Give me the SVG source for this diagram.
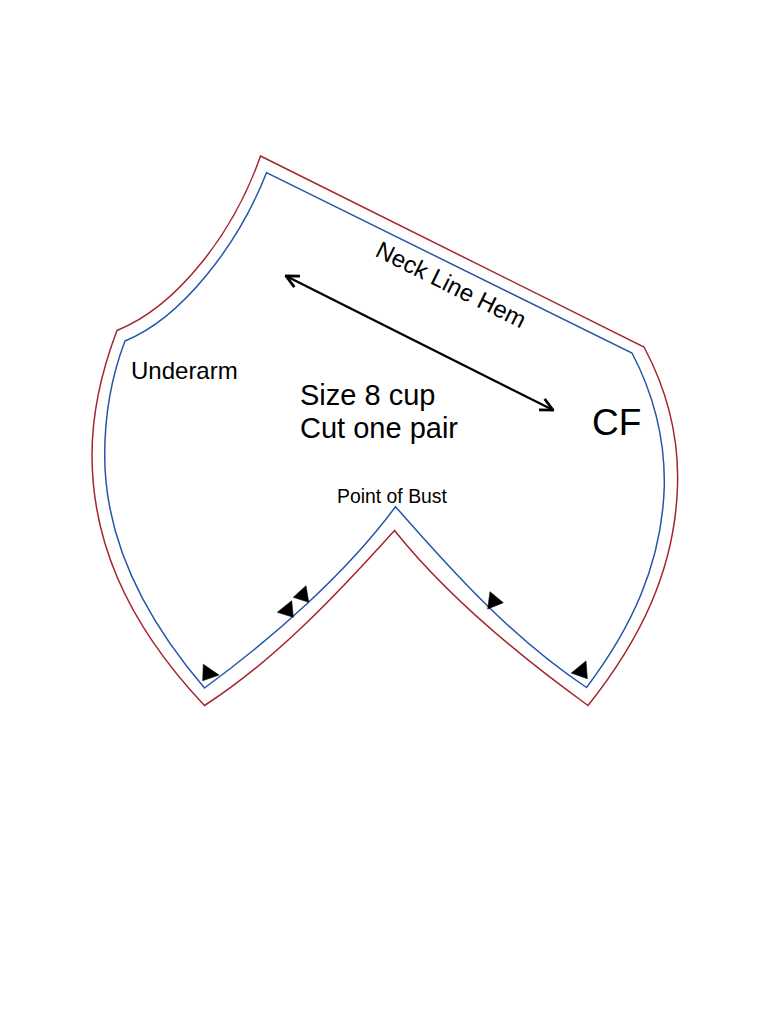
<svg xmlns="http://www.w3.org/2000/svg" width="768" height="1024" viewBox="0 0 768 1024">
<defs>
<style>
.o{fill:none;stroke:#a5252d;stroke-width:1.5}
.i{fill:none;stroke:#2456a8;stroke-width:1.5}
.t{font-family:"Liberation Sans",Arial,sans-serif;fill:#000}
.n{fill:#000;stroke:#000;stroke-width:.6}
</style>
<marker id="a" viewBox="0 0 12 12" refX="11" refY="6" markerWidth="15" markerHeight="15" markerUnits="userSpaceOnUse" orient="auto-start-reverse"><path d="M1 1L11 6L1 11" fill="none" stroke="#000" stroke-width="2.2"/></marker>
</defs>
<rect width="768" height="1024" fill="#fff"/>
<path class="o" d="M260.5 156L644 347C668 392 679 440 677.5 486C675 570 640 640 588 705.5C525 660 450 600 394.5 530.5C332 600 272 662 204.5 705.5C122 618 92 535 92 455C92 410 102 370 117 330.5C178 306 234 232 260.5 156Z"/>
<path class="i" d="M266.5 172.7L632 353C654 395 665 440 664.3 486C662 565 630 630 586.5 687.5C515 640 458 578 395.5 506.7C345 575 270 640 204.5 688C136 608 104.7 530 104.7 455C104.7 412 112 375 125 341C182 318 238 245 266.5 172.7Z"/>
<g id="connectors"><line x1="286" y1="276" x2="553" y2="410" stroke="#000" stroke-width="2.3" marker-start="url(#a)" marker-end="url(#a)"/></g>
<path class="n" d="M203.3 664.3L219 675L202.7 680.7Z"/>
<path class="n" d="M291.7 600.7L293.3 617.3L277.3 612.3Z"/>
<path class="n" d="M306 585.7L308.7 602.3L293.3 597.3Z"/>
<path class="n" d="M490 591.7L503.3 602.7L487.7 609Z"/>
<path class="n" d="M586 661L587.3 678.7L571.3 673Z"/>
<text class="t" font-size="24" x="131" y="379">Underarm</text>
<text class="t" font-size="29" x="300" y="405">Size 8 cup</text>
<text class="t" font-size="29" x="300" y="438">Cut one pair</text>
<text class="t" font-size="37" x="592" y="434.5">CF</text>
<text class="t" font-size="19.4" x="337" y="503">Point of Bust</text>
<text class="t" font-size="24" transform="translate(374 255.5) rotate(26.5)">Neck Line Hem</text>
</svg>
